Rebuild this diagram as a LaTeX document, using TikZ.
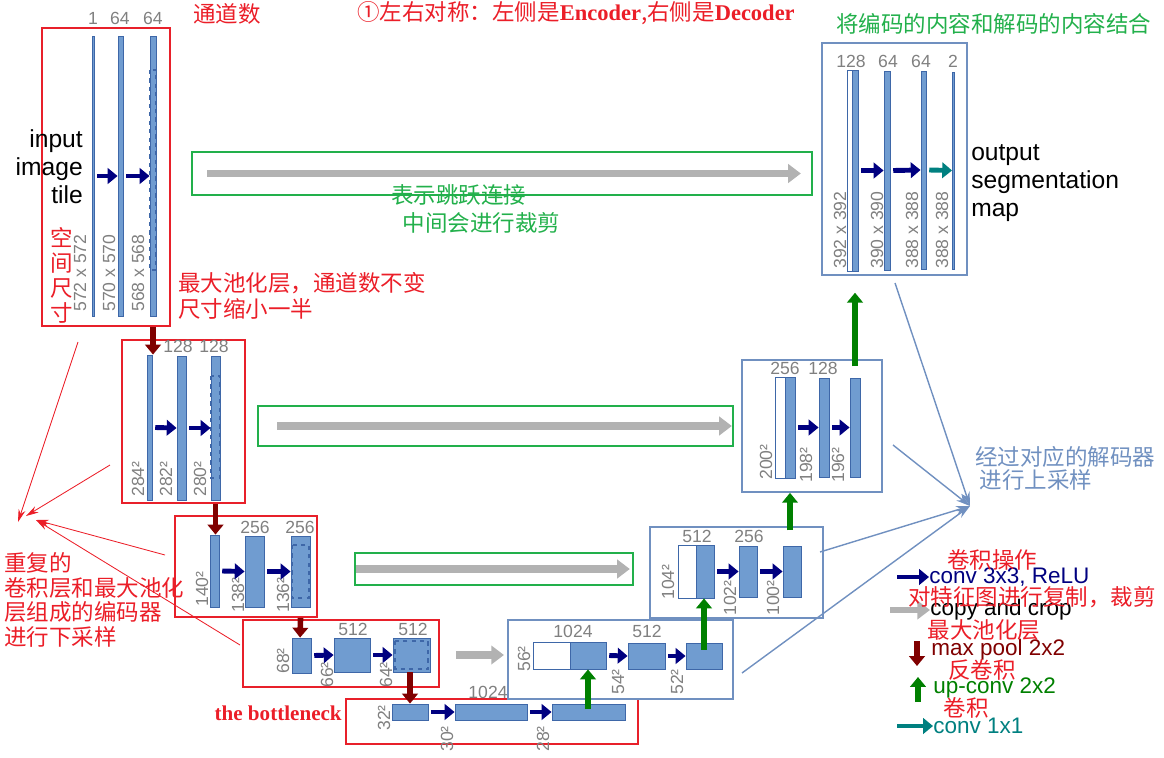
\documentclass[tikz,border=0pt]{standalone}
\usepackage{fontspec}
\setmainfont{Liberation Sans}
\newfontfamily\cjk{Noto Sans CJK SC}
\newfontfamily\serifbf{Liberation Serif}[BoldFont={Liberation Serif Bold}]
\usetikzlibrary{arrows.meta, positioning, fit}

\definecolor{fmapfill}{RGB}{112,156,208}
\definecolor{fmapline}{RGB}{62,103,168}
\definecolor{redbox}{RGB}{232,32,42}
\definecolor{greenbox}{RGB}{34,176,75}
\definecolor{decblue}{RGB}{112,144,192}
\definecolor{lblgray}{RGB}{128,128,128}
\definecolor{convblue}{RGB}{0,0,128}
\definecolor{pooldark}{RGB}{128,0,0}
\definecolor{upgreen}{RGB}{0,128,0}
\definecolor{tealc}{RGB}{0,128,128}
\definecolor{notered}{RGB}{235,30,40}

\newcommand{\fmap}[5]{\node[fmap, fit={(#2,#3) (#4,#5)}] (#1) {};}
\newcommand{\wmap}[5]{\node[wmap, fit={(#2,#3) (#4,#5)}] (#1) {};}

\begin{document}
\begin{tikzpicture}
        [
        x=0.025cm, y=-0.025cm,
        fmap/.style={draw=fmapline, fill=fmapfill, inner sep=0pt, line width=0.6pt},
        wmap/.style={draw=fmapline, fill=white, inner sep=0pt, line width=0.6pt},
        encbox/.style={draw=redbox, inner sep=0pt, line width=1.2pt},
        decbox/.style={draw=decblue, inner sep=0pt, line width=1.2pt},
        skipbox/.style={draw=greenbox, inner sep=0pt, line width=1.2pt},
        chan/.style={text=lblgray, font=\fontsize{12.5}{14}\selectfont, inner sep=0pt},
        dim/.style={text=lblgray, font=\fontsize{12.5}{14}\selectfont, rotate=90, anchor=west, inner sep=0pt},
        cropped/.style={draw=fmapline, dashed, line width=1pt},
        conv/.style={-{Triangle[length=7pt, width=11pt]}, line width=3.5pt, draw=convblue},
        copycrop/.style={-{Triangle[length=9pt, width=13pt]}, line width=5pt, draw=gray!60},
        pool/.style={-{Triangle[length=7pt, width=11pt]}, line width=4pt, draw=pooldark},
        upconv/.style={-{Triangle[length=7pt, width=11pt]}, line width=4pt, draw=upgreen},
        lastconv/.style={-{Triangle[length=7pt, width=11pt]}, line width=3.5pt, draw=tealc},
        note/.style={text=notered, font=\cjk\fontsize{16}{18}\selectfont, inner sep=0pt, align=left},
        legend/.style={anchor=west, inner sep=0pt, font=\fontsize{16}{18}\selectfont},
        pointer/.style={-{Stealth[length=9pt, width=5pt]}, draw=notered, line width=0.6pt},
        uppointer/.style={-{Stealth[length=10pt, width=6pt]}, draw=decblue, line width=1pt}
        ]
        \useasboundingbox (0,0) rectangle (1164,757);

        % Encoder, level 1
        \node[encbox, fit={(42,28) (170,326)}] (enc1) {};
        \fmap{e1a}{92}{36}{94}{316}
        \fmap{e1b}{118}{36}{123}{316}
        \fmap{e1c}{150}{36}{156}{316}
        \draw[cropped] (150,70) rectangle (156,270);
        \node[chan] at (93,18) {1};
        \node[chan] at (120,18) {64};
        \node[chan] at (153,18) {64};
        \node[dim] at (80,312) {572 x 572};
        \node[dim] at (109,312) {570 x 570};
        \node[dim] at (138,312) {568 x 568};
        \draw[conv] ([xshift=2pt]e1a.east) -- (e1b.west);
        \draw[conv] ([xshift=2pt]e1b.east) -- (e1c.west);
        \node[anchor=east, align=right, font=\fontsize{17.5}{20}\selectfont, inner sep=0pt] (input) at (83,167) {input\\image\\tile};

        % Encoder, level 2
        \node[encbox, fit={(122,340) (245,503)}] (enc2) {};
        \fmap{e2a}{147}{355}{152}{500}
        \fmap{e2b}{177}{356}{186}{500}
        \fmap{e2c}{211}{356}{220}{500}
        \draw[cropped] (211,376) rectangle (220,478);
        \node[chan] at (178,346) {128};
        \node[chan] at (214,346) {128};
        \node[dim] at (138,497) {284²};
        \node[dim] at (166,497) {282²};
        \node[dim] at (200,497) {280²};
        \draw[conv] ([xshift=2pt]e2a.east) -- (e2b.west);
        \draw[conv] ([xshift=2pt]e2b.east) -- (e2c.west);

        % Encoder, level 3
        \node[encbox, fit={(175,516) (317,617)}] (enc3) {};
        \fmap{e3a}{210}{535}{219}{607}
        \fmap{e3b}{245}{536}{264}{607}
        \fmap{e3c}{291}{536}{310}{607}
        \draw[cropped] (292,545) rectangle (309,598);
        \node[chan] at (255,527) {256};
        \node[chan] at (300,527) {256};
        \node[dim] at (202,607) {140²};
        \node[dim] at (238,613) {138²};
        \node[dim] at (283,613) {136²};
        \draw[conv] ([xshift=2pt]e3a.east) -- (e3b.west);
        \draw[conv] ([xshift=2pt]e3b.east) -- (e3c.west);

        % Encoder, level 4
        \node[encbox, fit={(243,620) (439,687)}] (enc4) {};
        \fmap{e4a}{292}{638}{311}{673}
        \fmap{e4b}{334}{638}{370}{672}
        \fmap{e4c}{393}{638}{430}{672}
        \draw[cropped] (395,641) rectangle (428,669);
        \node[chan] at (353,629) {512};
        \node[chan] at (413,629) {512};
        \node[dim] at (283,674) {68²};
        \node[dim] at (327,688) {66²};
        \node[dim] at (386,688) {64²};
        \draw[conv] ([xshift=2pt]e4a.east) -- (e4b.west);
        \draw[conv] ([xshift=2pt]e4b.east) -- (e4c.west);

        % Bottleneck
        \node[encbox, fit={(346,699) (638,744)}] (bneck) {};
        \fmap{b1}{392}{704}{428}{720}
        \fmap{b2}{455}{704}{527}{720}
        \fmap{b3}{552}{704}{625}{720}
        \node[chan] at (488,692) {1024};
        \node[dim] at (384,731) {32²};
        \node[dim] at (447,752) {30²};
        \node[dim] at (543,752) {28²};
        \draw[conv] ([xshift=2pt]b1.east) -- (b2.west);
        \draw[conv] ([xshift=2pt]b2.east) -- (b3.west);
        \node[anchor=east, text=notered, font=\serifbf\bfseries\fontsize{15}{17}\selectfont, inner sep=0pt] (btext) at (342,713) {the bottleneck};

        % Max pooling
        \draw[pool] (e1c.south |- enc1.south) -- (e1c.south |- e2a.north);
        \draw[pool] (e2c.south |- enc2.south) -- (e2c.south |- e3a.north);
        \draw[pool] (e3c.south |- enc3.south) -- ([xshift=-1pt]e4a.north);
        \draw[pool] (e4c.south -| b1) -- (b1.north);

        % Decoder, level 4
        \node[decbox, fit={(508,620) (733,699)}] (dec4) {};
        \wmap{d4a}{533}{642}{570}{669}
        \fmap{d4b}{570}{642}{606}{669}
        \fmap{d4c}{628}{643}{665}{669}
        \fmap{d4d}{686}{643}{722}{669}
        \node[chan] at (573,631) {1024};
        \node[chan] at (647,631) {512};
        \node[dim] at (524,672) {56²};
        \node[dim] at (618,695) {54²};
        \node[dim] at (677,695) {52²};
        \draw[conv] ([xshift=2pt]d4b.east) -- (d4c.west);
        \draw[conv] ([xshift=2pt]d4c.east) -- (d4d.west);

        % Decoder, level 3
        \node[decbox, fit={(650,527) (823,618)}] (dec3) {};
        \wmap{d3a}{678}{545}{696}{598}
        \fmap{d3b}{696}{545}{714}{598}
        \fmap{d3c}{739}{546}{757}{597}
        \fmap{d3d}{783}{546}{801}{597}
        \node[chan] at (697,536) {512};
        \node[chan] at (749,536) {256};
        \node[dim] at (668,600) {104²};
        \node[dim] at (730,616) {102²};
        \node[dim] at (773,616) {100²};
        \draw[conv] ([xshift=2pt]d3b.east) -- (d3c.west);
        \draw[conv] ([xshift=2pt]d3c.east) -- (d3d.west);

        % Decoder, level 2
        \node[decbox, fit={(742,360) (882,492)}] (dec2) {};
        \wmap{d2a}{775}{377}{785}{478}
        \fmap{d2b}{785}{377}{795}{478}
        \fmap{d2c}{819}{378}{829}{477}
        \fmap{d2d}{850}{378}{860}{477}
        \node[chan] at (785,368) {256};
        \node[chan] at (823,368) {128};
        \node[dim] at (766,480) {200²};
        \node[dim] at (806,483) {198²};
        \node[dim] at (838,483) {196²};
        \draw[conv] ([xshift=2pt]d2b.east) -- (d2c.west);
        \draw[conv] ([xshift=2pt]d2c.east) -- (d2d.west);

        % Decoder, level 1
        \node[decbox, fit={(822,43) (967,275)}] (dec1) {};
        \wmap{d1a}{847}{70}{852}{271}
        \fmap{d1b}{852}{70}{858}{271}
        \fmap{d1c}{884}{71}{890}{270}
        \fmap{d1d}{921}{71}{926}{269}
        \fmap{d1e}{952.5}{72}{954}{269}
        \node[chan] at (851,61) {128};
        \node[chan] at (888,61) {64};
        \node[chan] at (921,61) {64};
        \node[chan] at (953,61) {2};
        \node[dim] at (840,269) {392 x 392};
        \node[dim] at (877,269) {390 x 390};
        \node[dim] at (912,269) {388 x 388};
        \node[dim] at (942,269) {388 x 388};
        \draw[conv] ([xshift=2pt]d1b.east) -- (d1c.west);
        \draw[conv] ([xshift=2pt]d1c.east) -- (d1d.west);
        \draw[lastconv] ([xshift=2pt]d1d.east) -- (d1e.west);
        \node[anchor=west, align=left, font=\fontsize{17.5}{20}\selectfont, inner sep=0pt] (output) at (971,183) {output\\segmentation\\map};

        % Up-convolution
        \draw[upconv] ([yshift=-4pt]b3.north -| d4b) -- (d4b.south);
        \draw[upconv] ([yshift=-5pt]d4d.north) -- (d4d.north |- d3b.south);
        \draw[upconv] ([yshift=-3pt]dec3.north -| d2b) -- (dec2.south -| d2b);
        \draw[upconv, shorten >=12pt] ([yshift=-5pt]dec2.north -| d1b) -- (dec1.south -| d1b);

        % Copy and crop
        \node[skipbox, fit={(192,152) (812,195)}] (skip1) {};
        \node[skipbox, fit={(258,406) (733,446)}] (skip2) {};
        \node[skipbox, fit={(355,553) (633,585)}] (skip3) {};
        \draw[copycrop] ([xshift=0.4cm]skip1.west) -- ([xshift=-0.3cm]skip1.east);
        \draw[copycrop] ([xshift=0.5cm]skip2.west) -- ([xshift=-0.05cm]skip2.east);
        \draw[copycrop] ([xshift=0.05cm]skip3.west) -- ([xshift=-0.1cm]skip3.east);
        \draw[copycrop, shorten <=0.4cm, shorten >=0.08cm] (enc4.east |- e4b) -- (dec4.west |- e4b);

        % Notes
        \node[note, anchor=west] (title) at (357,13) {①左右对称：左侧是{\serifbf\bfseries Encoder},右侧是{\serifbf\bfseries Decoder}};
        \node[note, anchor=west] (chnote) at (193,14) {通道数};
        \node[note, anchor=west, text=greenbox] (concat) at (836,24) {将编码的内容和解码的内容结合};
        \node[note, anchor=north west, text=greenbox, font=\cjk\fontsize{16}{20}\selectfont] (skipnote) at (391,184) {表示跳跃连接\\\hspace{0.5em}中间会进行裁剪};
        \node[note, anchor=north west, font=\cjk\fontsize{16}{17.8}\selectfont] (spatial) at (50,227) {空\\间\\尺\\寸};
        \node[note, anchor=north west, font=\cjk\fontsize{16}{18.5}\selectfont] (poolnote) at (178,272) {最大池化层，通道数不变\\尺寸缩小一半};
        \node[note, anchor=north west, font=\cjk\fontsize{16}{17.6}\selectfont] (encnote) at (4,552) {重复的\\卷积层和最大池化\\层组成的编码器\\进行下采样};
        \node[note, anchor=north west, text=decblue, font=\cjk\fontsize{16}{16.5}\selectfont] (decnote) at (975,446) {经过对应的解码器\\\hspace{0.2em}进行上采样};

        % Pointers
        \coordinate (encpt) at (18,522);
        \coordinate (encpt2) at (36,520);
        \coordinate (decpt) at (970,506);
        \draw[pointer] (78,342) -- (encpt);
        \draw[pointer] (110,465) -- (26,516);
        \draw[pointer] (165,555) -- (encpt2);
        \draw[pointer] (240,645) -- (encpt2);
        \draw[uppointer] (895,283) -- (decpt);
        \draw[uppointer] (893,445) -- (decpt);
        \draw[uppointer] (820,552) -- (decpt);
        \draw[uppointer] (742,673) -- (decpt);

        % Legend
        \node[legend, text=convblue] (lconv) at (929,577) {conv 3x3, ReLU};
        \node[legend] (lcopy) at (930,610) {copy and crop};
        \node[legend, text=pooldark] (lpool) at (931,650) {max pool 2x2};
        \node[legend, text=upgreen] (lup) at (933,688) {up-conv 2x2};
        \node[legend, text=tealc] (lout) at (933,726) {conv 1x1};
        \coordinate (kconv) at (897,577);
        \coordinate (kcopy) at (890,610);
        \coordinate (kpool) at (917,641);
        \coordinate (kup) at (918,702);
        \coordinate (kout) at (897,726);
        \draw[conv] (kconv) -- (lconv.west);
        \draw[copycrop, line width=4pt] (kcopy) -- (lcopy.west);
        \draw[pool] (kpool) -- ++(0,25);
        \draw[upconv] (kup) -- ++(0,-25);
        \draw[lastconv] (kout) -- (lout.west);
        \node[note] at (992,560) {卷积操作};
        \node[note] at (1032,597) {对特征图进行复制，裁剪};
        \node[note] at (984,630) {最大池化层};
        \node[note] at (982,670) {反卷积};
        \node[note] at (966,708) {卷积};
    \end{tikzpicture}
\end{document}
